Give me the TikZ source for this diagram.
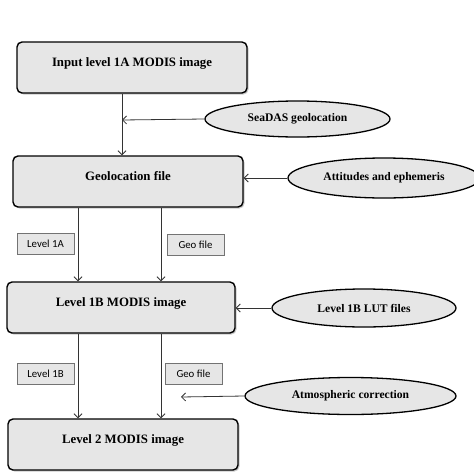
\documentclass[tikz,border=0pt]{standalone}
\usepackage{fontspec}
\setmainfont{Liberation Serif}
\newfontfamily\lblfont{Carlito}
\usetikzlibrary{shapes.geometric,arrows.meta,shadows}
\tikzset{
  mainbox/.style={draw=black, line width=1.4pt, rounded corners=5pt, fill=boxgray,
    minimum width=230pt, minimum height=51pt, text height=9pt, text depth=11pt,
    font=\bfseries\fontsize{12.8}{14}\selectfont,
    drop shadow={shadow xshift=1.5pt, shadow yshift=-1.5pt, fill=black!35, opacity=0.6}},
  oval/.style={ellipse, draw=black, line width=1.3pt, fill=boxgray, inner sep=0pt,
    font=\bfseries\fontsize{11.6}{13}\selectfont},
  lbl/.style={draw=black!55, line width=0.6pt, fill=boxgray, minimum width=57pt,
    minimum height=21pt, inner sep=0pt, font=\lblfont\fontsize{10.8}{12}\selectfont},
  arr/.style={draw=black!80, line width=0.8pt, -{Straight Barb[length=4pt,width=8pt]}}
}
\definecolor{boxgray}{RGB}{230,230,230}
\begin{document}
\begin{tikzpicture}[x=1pt,y=-1pt]
\useasboundingbox (0,0) rectangle (474,474);
\begin{scope}
\clip (0,0) rectangle (474,474);
\node[mainbox] (b1) at (132,67.5) {Input level 1A MODIS image};
\node[mainbox] (b2) at (128,181.5) {Geolocation file};
\node[mainbox, minimum width=228pt] (b3) at (121,307.5) {Level 1B MODIS image};
\node[mainbox] (b4) at (123,444.5) {Level 2 MODIS image};

\node[oval, minimum width=185pt, minimum height=36pt] (e1) at (297.5,119) {SeaDAS geolocation};
\node[oval, minimum width=192pt, minimum height=40pt] (e2) at (384,178) {Attitudes and ephemeris};
\node[oval, minimum width=184pt, minimum height=38pt] (e3) at (364,308) {Level 1B LUT files};
\node[oval, minimum width=211pt, minimum height=37pt] (e4) at (350.5,396) {Atmospheric correction};

\node[lbl] (l1) at (45.5,244) {Level 1A};
\node[lbl] (l2) at (195.5,244.5) {Geo file};
\node[lbl] (l3) at (45.5,373.5) {Level 1B};
\node[lbl] (l4) at (193.5,373.5) {Geo file};

\coordinate (j1) at (122,120);
\coordinate (j4) at (181,397);

\draw[arr] (b1.south -| j1) -- (b2.north -| j1);
\draw[arr] (e1.west) -- (j1);
\draw[arr] (e2.west) -- (b2.east |- e2.west);
\draw[arr] (b2.south -| 78,0) -- (b3.north -| 78,0);
\draw[arr] (b2.south -| 161,0) -- (b3.north -| 161,0);
\draw[arr] (e3.west) -- (b3.east |- e3.west);
\draw[arr] (b3.south -| 78,0) -- (b4.north -| 78,0);
\draw[arr] (b3.south -| 161,0) -- (b4.north -| 161,0);
\draw[arr] (e4.west) -- (j4);
\end{scope}
\end{tikzpicture}
\end{document}
